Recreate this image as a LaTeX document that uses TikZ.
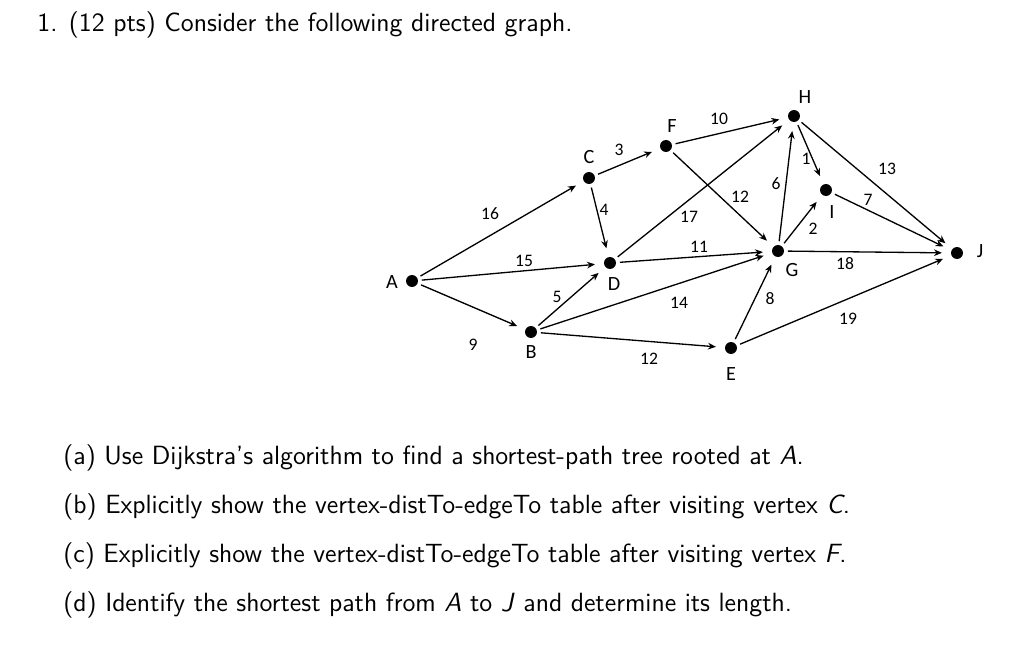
\documentclass[tikz,border=0pt]{standalone}
\usepackage{fontspec}
\newfontfamily\gfont{Carlito}
\usetikzlibrary{arrows.meta}
\begin{document}
\begin{tikzpicture}[x=0.02cm,y=-0.02cm,
  v/.style={circle,fill=black,inner sep=0pt,minimum size=6.8pt},
  e/.style={-{Stealth[length=4.5pt,width=3.8pt]},line width=0.75pt,shorten >=5pt,shorten <=2pt},
  w/.style={font=\gfont\fontsize{10}{11}\selectfont,inner sep=1pt},
  lab/.style={font=\gfont\fontsize{11.5}{12}\selectfont,inner sep=0pt},
  q/.style={font=\sffamily\fontsize{15}{17}\selectfont,anchor=west,inner sep=0pt}]
\useasboundingbox (0,0) rectangle (1015,659);
\node[q] (t) at (37,25) {1. (12 pts) Consider the following directed graph.};
\node[v] (A) at (412,281) {}; \node[v] (B) at (531,332) {}; \node[v] (C) at (589,178) {};
\node[v] (D) at (610,263) {}; \node[v] (E) at (731,348) {}; \node[v] (F) at (666,146) {};
\node[v] (G) at (778,251) {}; \node[v] (H) at (794,116) {}; \node[v] (I) at (826,190) {};
\node[v] (J) at (957,253) {};
\node[lab] (lA) at (392,282) {A}; \node[lab] (lB) at (531,352) {B}; \node[lab] (lC) at (589,157) {C};
\node[lab] (lD) at (614,284) {D}; \node[lab] (lE) at (731,374) {E}; \node[lab] (lF) at (672,126) {F};
\node[lab] (lG) at (792,270) {G}; \node[lab] (lH) at (805,97) {H}; \node[lab] (lI) at (832,212) {I};
\node[lab] (lJ) at (980,251) {J};
\draw[e] (A) -- (C); \draw[e] (A) -- (D); \draw[e] (A) -- (B);
\draw[e] (C) -- (F); \draw[e] (C) -- (D); \draw[e] (F) -- (H); \draw[e] (F) -- (G);
\draw[e] (D) -- (H); \draw[e] (D) -- (G); \draw[e] (B) -- (D); \draw[e] (B) -- (G);
\draw[e] (B) -- (E); \draw[e] (E) -- (G); \draw[e] (E) -- (J); \draw[e] (G) -- (H);
\draw[e] (G) -- (I); \draw[e] (G) -- (J); \draw[e] (H) -- (I); \draw[e] (H) -- (J); \draw[e] (I) -- (J);
\node[w] at (490,214) {16}; \node[w] at (524,261) {15}; \node[w] at (473,345) {9};
\node[w] at (619,150) {3}; \node[w] at (604,210) {4}; \node[w] at (719,119) {10};
\node[w] at (740,197) {12}; \node[w] at (689,217) {17}; \node[w] at (699,247) {11};
\node[w] at (557,297) {5}; \node[w] at (679,303) {14}; \node[w] at (649,359) {12};
\node[w] at (770,299) {8}; \node[w] at (848,319) {19}; \node[w] at (776,184) {6};
\node[w] at (813,229) {2}; \node[w] at (845,264) {18}; \node[w] at (806,159) {1};
\node[w] at (887,169) {13}; \node[w] at (868,200) {7};
\node[q] (a) at (63,458) {(a) Use Dijkstra's algorithm to find a shortest-path tree rooted at \textit{A}.};
\node[q] (b) at (63,507) {(b) Explicitly show the vertex-distTo-edgeTo table after visiting vertex \textit{C}.};
\node[q] (c) at (63,556) {(c) Explicitly show the vertex-distTo-edgeTo table after visiting vertex \textit{F}.};
\node[q] (d) at (63,605) {(d) Identify the shortest path from \textit{A} to \textit{J} and determine its length.};
\end{tikzpicture}
\end{document}
